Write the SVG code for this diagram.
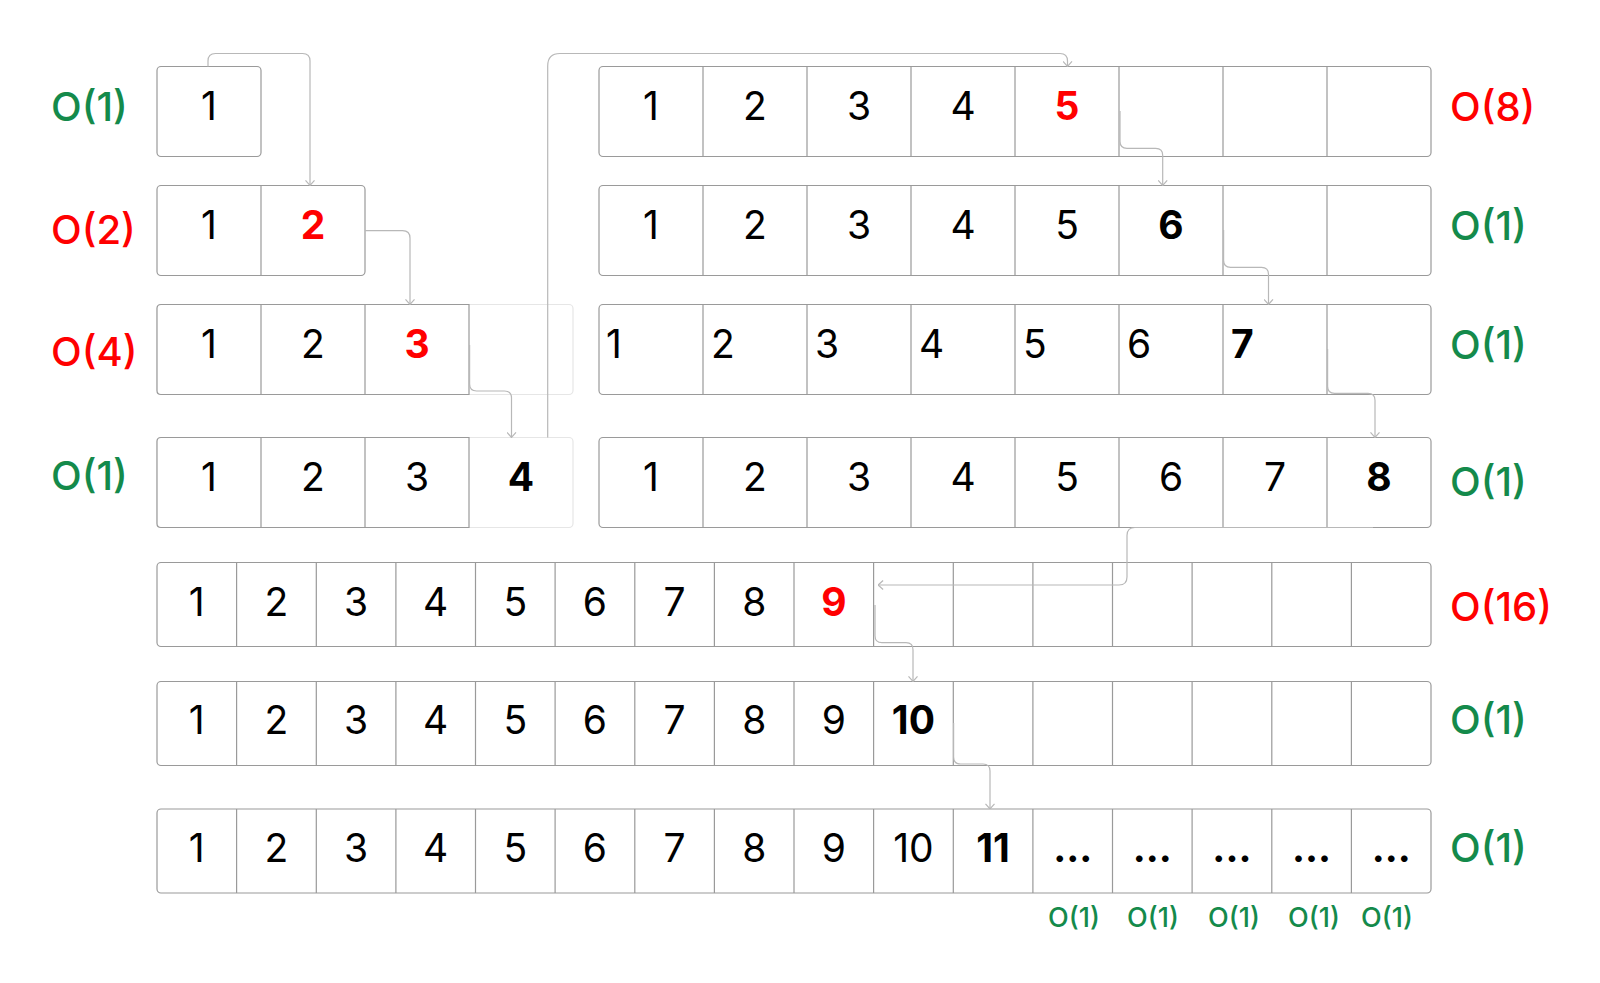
<svg xmlns="http://www.w3.org/2000/svg" width="1600" height="983" viewBox="0 0 1600 983">
<style>
.box{fill:#fff;stroke:#9a9a9a;stroke-width:1.2}
.fade{fill:#fff;stroke:#e6e6e6;stroke-width:1.2}
.div{fill:none;stroke:#9a9a9a;stroke-width:1.2}
.t{font-family:Inter,"Noto Sans","Liberation Sans",sans-serif;font-size:39px;text-anchor:middle;fill:#000}
.l{text-anchor:start}
.b{font-weight:700}
.r{fill:#ff0000}
.g{fill:#148a4b}
.o{font-size:40px;font-weight:500}
.s{font-size:27px;font-weight:500}
.con{fill:none;stroke:#b8b8b8;stroke-width:1.2;marker-end:url(#ah)}
</style>
<defs>
<marker id="ah" viewBox="0 0 6 10" refX="5.6" refY="5" markerWidth="6" markerHeight="10" markerUnits="userSpaceOnUse" orient="auto">
<path d="M0.5,0.5 L5.5,5 L0.5,9.5" fill="none" stroke="#b8b8b8" stroke-width="1.2"/>
</marker>
</defs>
<rect width="1600" height="983" fill="#fff"/>

<g id="labels-left">
<text class="t l o g" x="51" y="121">O(1)</text>
<text class="t l o r" x="51" y="244">O(2)</text>
<text class="t l o r" x="51" y="366">O(4)</text>
<text class="t l o g" x="51" y="490">O(1)</text>
</g>
<g id="labels-right">
<text class="t l o r" x="1450" y="121">O(8)</text>
<text class="t l o g" x="1450" y="240">O(1)</text>
<text class="t l o g" x="1450" y="359">O(1)</text>
<text class="t l o g" x="1450" y="496">O(1)</text>
<text class="t l o r" x="1450" y="621">O(16)</text>
<text class="t l o g" x="1450" y="734">O(1)</text>
<text class="t l o g" x="1450" y="862">O(1)</text>
</g>

<g id="row-l1">
<rect class="box" x="157" y="66.5" width="104" height="90" rx="4"/>
<text class="t" x="209" y="120">1</text>
</g>
<g id="row-l2">
<rect class="box" x="157" y="185.5" width="208" height="90" rx="4"/>
<path class="div" d="M261,185.5V275.5"/>
<text class="t" x="209" y="239">1</text>
<text class="t b r" x="313" y="239">2</text>
</g>
<g id="row-l3">
<rect class="fade" x="157" y="304.5" width="416" height="90" rx="4"/>
<path class="box" d="M161,304.5H469V394.5H161Q157,394.5 157,390.5V308.5Q157,304.5 161,304.5Z"/>
<path class="div" d="M261,304.5V394.5M365,304.5V394.5"/>
<text class="t" x="209" y="357.5">1</text>
<text class="t" x="313" y="357.5">2</text>
<text class="t b r" x="417" y="357.5">3</text>
</g>
<g id="row-l4">
<rect class="fade" x="157" y="437.5" width="416" height="90" rx="4"/>
<path class="box" d="M161,437.5H469V527.5H161Q157,527.5 157,523.5V441.5Q157,437.5 161,437.5Z"/>
<path class="div" d="M261,437.5V527.5M365,437.5V527.5"/>
<text class="t" x="209" y="490.5">1</text>
<text class="t" x="313" y="490.5">2</text>
<text class="t" x="417" y="490.5">3</text>
<text class="t b" x="521" y="490.5">4</text>
</g>

<g id="row-r1">
<rect class="box" x="599" y="66.5" width="832" height="90" rx="4"/>
<path class="div" d="M703,66.5V156.5M807,66.5V156.5M911,66.5V156.5M1015,66.5V156.5M1119,66.5V156.5M1223,66.5V156.5M1327,66.5V156.5"/>
<text class="t" x="651" y="120">1</text>
<text class="t" x="755" y="120">2</text>
<text class="t" x="859" y="120">3</text>
<text class="t" x="963" y="120">4</text>
<text class="t b r" x="1067" y="120">5</text>
</g>
<g id="row-r2">
<rect class="box" x="599" y="185.5" width="832" height="90" rx="4"/>
<path class="div" d="M703,185.5V275.5M807,185.5V275.5M911,185.5V275.5M1015,185.5V275.5M1119,185.5V275.5M1223,185.5V275.5M1327,185.5V275.5"/>
<text class="t" x="651" y="239">1</text>
<text class="t" x="755" y="239">2</text>
<text class="t" x="859" y="239">3</text>
<text class="t" x="963" y="239">4</text>
<text class="t" x="1067" y="239">5</text>
<text class="t b" x="1171" y="239">6</text>
</g>
<g id="row-r3">
<rect class="box" x="599" y="304.5" width="832" height="90" rx="4"/>
<path class="div" d="M703,304.5V394.5M807,304.5V394.5M911,304.5V394.5M1015,304.5V394.5M1119,304.5V394.5M1223,304.5V394.5M1327,304.5V394.5"/>
<text class="t l" x="606" y="357.5">1</text>
<text class="t l" x="711" y="357.5">2</text>
<text class="t l" x="815" y="357.5">3</text>
<text class="t l" x="919" y="357.5">4</text>
<text class="t l" x="1023" y="357.5">5</text>
<text class="t l" x="1127" y="357.5">6</text>
<text class="t l b" x="1231" y="357.5">7</text>
</g>
<g id="row-r4">
<rect class="box" x="599" y="437.5" width="832" height="90" rx="4"/>
<path class="div" d="M703,437.5V527.5M807,437.5V527.5M911,437.5V527.5M1015,437.5V527.5M1119,437.5V527.5M1223,437.5V527.5M1327,437.5V527.5"/>
<text class="t" x="651" y="490.5">1</text>
<text class="t" x="755" y="490.5">2</text>
<text class="t" x="859" y="490.5">3</text>
<text class="t" x="963" y="490.5">4</text>
<text class="t" x="1067" y="490.5">5</text>
<text class="t" x="1171" y="490.5">6</text>
<text class="t" x="1275" y="490.5">7</text>
<text class="t b" x="1379" y="490.5">8</text>
</g>

<g id="row-b1">
<rect class="box" x="157" y="562.5" width="1274" height="84" rx="4"/>
<path class="div" d="M236.6,562.5V646.5M316.3,562.5V646.5M395.9,562.5V646.5M475.5,562.5V646.5M555.1,562.5V646.5M634.8,562.5V646.5M714.4,562.5V646.5M794,562.5V646.5M873.6,562.5V646.5M953.3,562.5V646.5M1032.9,562.5V646.5M1112.5,562.5V646.5M1192.1,562.5V646.5M1271.8,562.5V646.5M1351.4,562.5V646.5"/>
<text class="t" x="196.8" y="615.5">1</text>
<text class="t" x="276.4" y="615.5">2</text>
<text class="t" x="356.1" y="615.5">3</text>
<text class="t" x="435.7" y="615.5">4</text>
<text class="t" x="515.3" y="615.5">5</text>
<text class="t" x="594.9" y="615.5">6</text>
<text class="t" x="674.6" y="615.5">7</text>
<text class="t" x="754.2" y="615.5">8</text>
<text class="t b r" x="833.8" y="615.5">9</text>
</g>
<g id="row-b2">
<rect class="box" x="157" y="681.5" width="1274" height="84" rx="4"/>
<path class="div" d="M236.6,681.5V765.5M316.3,681.5V765.5M395.9,681.5V765.5M475.5,681.5V765.5M555.1,681.5V765.5M634.8,681.5V765.5M714.4,681.5V765.5M794,681.5V765.5M873.6,681.5V765.5M953.3,681.5V765.5M1032.9,681.5V765.5M1112.5,681.5V765.5M1192.1,681.5V765.5M1271.8,681.5V765.5M1351.4,681.5V765.5"/>
<text class="t" x="196.8" y="734">1</text>
<text class="t" x="276.4" y="734">2</text>
<text class="t" x="356.1" y="734">3</text>
<text class="t" x="435.7" y="734">4</text>
<text class="t" x="515.3" y="734">5</text>
<text class="t" x="594.9" y="734">6</text>
<text class="t" x="674.6" y="734">7</text>
<text class="t" x="754.2" y="734">8</text>
<text class="t" x="833.8" y="734">9</text>
<text class="t b" x="913.4" y="734">10</text>
</g>
<g id="row-b3">
<rect class="box" x="157" y="809" width="1274" height="84" rx="4"/>
<path class="div" d="M236.6,809V893M316.3,809V893M395.9,809V893M475.5,809V893M555.1,809V893M634.8,809V893M714.4,809V893M794,809V893M873.6,809V893M953.3,809V893M1032.9,809V893M1112.5,809V893M1192.1,809V893M1271.8,809V893M1351.4,809V893"/>
<text class="t" x="196.8" y="862">1</text>
<text class="t" x="276.4" y="862">2</text>
<text class="t" x="356.1" y="862">3</text>
<text class="t" x="435.7" y="862">4</text>
<text class="t" x="515.3" y="862">5</text>
<text class="t" x="594.9" y="862">6</text>
<text class="t" x="674.6" y="862">7</text>
<text class="t" x="754.2" y="862">8</text>
<text class="t" x="833.8" y="862">9</text>
<text class="t" x="913.4" y="862">10</text>
<text class="t b" x="993.1" y="862">11</text>
<text class="t b" x="1072.7" y="862">...</text>
<text class="t b" x="1152.3" y="862">...</text>
<text class="t b" x="1231.9" y="862">...</text>
<text class="t b" x="1311.6" y="862">...</text>
<text class="t b" x="1391.2" y="862">...</text>
</g>
<g id="labels-bottom">
<text class="t s g" x="1074" y="927">O(1)</text>
<text class="t s g" x="1153" y="927">O(1)</text>
<text class="t s g" x="1234" y="927">O(1)</text>
<text class="t s g" x="1314" y="927">O(1)</text>
<text class="t s g" x="1387" y="927">O(1)</text>
</g>

<g id="connectors">
<path class="con" d="M208,66.5V61Q208,53.5 215.5,53.5H302.5Q310,53.5 310,61V185.5"/>
<path class="con" d="M365,230.7H402.5Q410,230.7 410,238.2V304.5"/>
<path class="con" d="M469.6,345V384Q469.6,391 476.6,391H504.5Q511.5,391 511.5,398V437.5"/>
<path class="con" d="M547.7,437.5V66Q547.7,53.5 560,53.5H1060Q1067.5,53.5 1067.5,61V66.5"/>
<path class="con" d="M1120,111V141.3Q1120,148.3 1127,148.3H1155.7Q1162.7,148.3 1162.7,155.3V185.5"/>
<path class="con" d="M1223.6,230V260.3Q1223.6,267.3 1230.6,267.3H1261.5Q1268.5,267.3 1268.5,274.3V304.5"/>
<path class="con" d="M1327.6,349V386.3Q1327.6,393.3 1334.6,393.3H1368Q1375,393.3 1375,400.3V437.5"/>
<path class="con" d="M1373,527.5H1135Q1127,527.5 1127,535.5V577Q1127,585 1119,585H878"/>
<path class="con" d="M875,605V635.7Q875,642.7 882,642.7H906Q913,642.7 913,649.7V681.5"/>
<path class="con" d="M953.6,723V757Q953.6,764 960.6,764H983Q990,764 990,771V809"/>
</g>
</svg>
